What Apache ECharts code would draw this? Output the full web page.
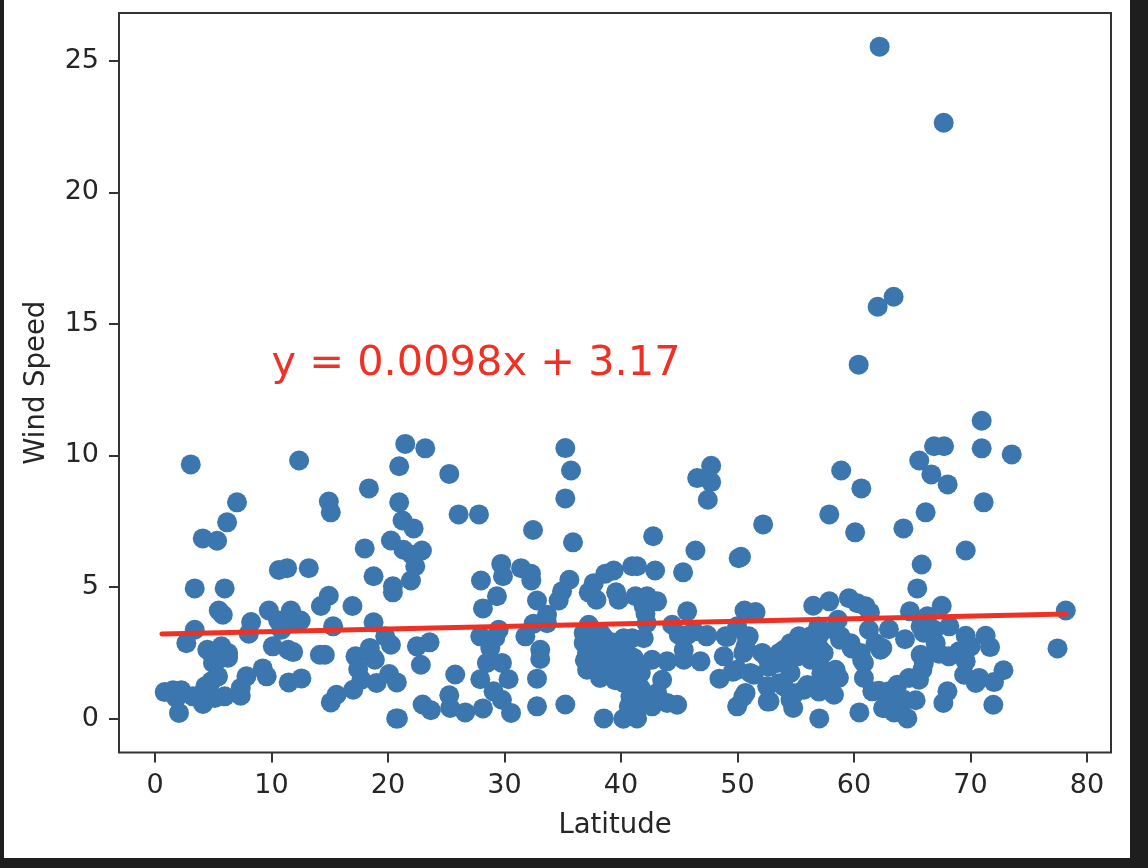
<!DOCTYPE html>
<html><head><meta charset="utf-8">
<script src="https://cdn.jsdelivr.net/npm/echarts@6/dist/echarts.min.js"></script>
<style>
html,body{margin:0;padding:0;background:#1e1e1e;width:1148px;height:868px;overflow:hidden}
#c{position:absolute;left:4px;top:0;width:1126px;height:858px;background:#fff}
</style></head><body><div id="c"></div>
<script>
const xTicks=[0,10,20,30,40,50,60,70,80];
const yTicks=[0,5,10,15,20,25];
const xName='Latitude';
const yName='Wind Speed';
const equation='y = 0.0098x + 3.17';
const equationAt=[10,13];
const fitLine=[[0.6,3.22],[78.2,3.98]];
const band0to20=[[3.07,9.66],[12.37,9.81],[18.36,8.75],[7.04,8.22],[14.92,8.25],[15.09,7.84],[6.19,7.46],[4.1,6.85],[5.33,6.76],[18,6.47],[18.76,5.41],[10.63,5.65],[11.34,5.72],[13.2,5.72],[3.41,4.95],[5.98,4.95],[14.92,4.67],[14.24,4.28],[16.95,4.28],[5.47,4.11],[5.82,3.95],[9.77,4.11],[11.66,4.11],[8.25,3.67],[10.57,3.73],[11.28,3.57],[12.51,3.73],[11.86,3.89],[10.85,3.38],[15.29,3.51],[18.76,3.66],[3.41,3.38],[8.05,3.23],[2.69,2.87],[10.11,2.75],[11.43,2.62],[11.86,2.53],[14.15,2.43],[14.58,2.43],[4.49,2.62],[5.7,2.75],[6.27,2.5],[5.41,2.24],[4.98,2.12],[6.27,2.32],[4.81,2.5],[17.21,2.37],[18.44,2.69],[18.87,2.24],[5.41,1.61],[4.84,1.42],[7.85,1.61],[9.25,1.91],[9.59,1.61],[11.48,1.38],[12.57,1.53],[17.44,1.89],[15.58,0.91],[15.09,0.62],[17.01,1.1],[17.72,1.48],[19.02,1.36],[0.83,1.01],[1.55,1.08],[2.26,1.08],[1.83,0.79],[2.06,0.22],[3.26,0.85],[4.12,0.56],[4.41,0.98],[5.13,0.79],[5.98,0.85],[7.36,0.87],[7.36,1.17],[4.32,1.23]];
const band20to40=[[21.48,10.44],[23.2,10.27],[20.96,9.59],[25.26,9.3],[20.96,8.22],[21.25,7.53],[22.2,7.23],[26.06,7.76],[27.81,7.76],[32.45,7.17],[35.88,6.7],[20.25,6.77],[21.33,6.42],[22.91,6.39],[22.05,6.23],[22.34,5.79],[21.97,5.25],[20.42,5.03],[20.42,4.8],[29.72,5.88],[29.87,5.41],[27.98,5.25],[29.35,4.65],[28.15,4.19],[31.42,5.72],[32.27,5.51],[32.3,5.25],[32.79,4.49],[35.57,5.28],[34.94,4.84],[34.65,4.49],[35.22,10.28],[35.71,9.43],[35.22,8.37],[33.65,3.95],[33.65,3.63],[32.5,3.61],[31.79,3.13],[37.23,3.57],[39.37,5.63],[38.66,5.51],[37.66,5.15],[37.23,4.8],[37.89,4.52],[39.58,4.8],[39.8,4.52],[29.5,3.38],[27.92,3.13],[29.21,3.08],[28.78,2.69],[28.49,2.12],[29.78,2.12],[27.92,1.5],[30.35,1.5],[29.06,1.04],[29.78,0.72],[30.56,0.22],[28.15,0.39],[32.79,1.52],[33.07,2.62],[33.07,2.27],[32.79,0.47],[35.22,0.54],[23.57,2.9],[22.48,2.75],[22.82,2.05],[25.77,1.68],[20.25,2.81],[19.76,3.13],[18.76,2.31],[20.1,1.7],[20.76,1.38],[20.7,0.01],[20.85,0.01],[22.97,0.54],[23.68,0.32],[25.26,0.89],[25.34,0.41],[26.63,0.24],[36.8,3.26],[38.23,3.26],[36.8,2.88],[38.52,3.0],[37.09,2.5],[37.09,2.24],[37.09,1.86],[39.09,2.37],[39.52,1.74],[38.52,0.01],[39.66,2.62],[37.9,2.7],[38.3,2.0],[36.9,2.22],[37.9,2.36],[38.9,1.85],[39.5,1.46],[38.5,3.1],[39.2,2.9],[38.2,1.55]];
const band40to60=[[47.74,9.61],[46.54,9.14],[47.74,8.99],[47.45,8.32],[58.9,9.43],[52.2,7.38],[57.88,7.76],[42.76,6.93],[46.39,6.39],[50.1,6.1],[50.3,6.15],[40.95,5.79],[41.38,5.79],[42.93,5.63],[45.33,5.56],[41.24,4.65],[42.24,4.65],[43.1,4.46],[41.95,4.27],[45.68,4.08],[50.6,4.11],[51.55,4.05],[56.5,4.29],[57.88,4.46],[59.56,4.58],[58.62,3.76],[44.39,3.57],[44.96,3.19],[46.25,3.32],[47.34,3.13],[48.97,3.13],[49.97,3.51],[50.97,3.13],[50.69,2.75],[41.95,3.06],[40.95,3.06],[40.23,3.06],[45.39,2.62],[48.82,2.37],[46.82,2.18],[45.39,2.24],[43.96,2.18],[42.67,2.24],[41.09,2.31],[40.81,2.37],[48.45,1.52],[52.12,2.5],[49.97,1.86],[51.4,1.67],[43.53,1.48],[43.1,0.98],[44.82,0.53],[43.96,0.6],[42.67,0.47],[41.38,0.01],[40.2,0],[41.07,0.47],[40.67,1.36],[40.23,1.36],[41.67,1.17],[40.81,1.86],[40.23,2.12],[41.67,1.86],[40.23,1.48],[41.38,0.85],[40.81,0.85],[40.67,0.47],[50.69,0.98],[49.97,0.47],[52.75,0.66],[53.4,2.12],[52.55,1.23],[53.98,2.62],[54.55,2.87],[55.27,3.13],[54.25,2.12],[55.12,2.37],[56.27,3.13],[56.85,2.87],[57.13,2.62],[55.98,2.62],[54.55,1.74],[53.98,1.23],[54.55,0.72],[54.78,0.41],[55.7,1.1],[56.85,1.16],[57.02,0.01],[58.28,0.91],[57.71,1.36],[58.7,1.55],[58.42,1.86],[57.42,1.86],[56.27,2.24],[58.28,3.38],[58.85,3.13],[59.71,2.87],[57.13,3.25],[56.9,3.4],[42.1,4],[42.2,3.63],[40.5,1.36],[41.1,2.22],[41.7,1.74],[41.1,0.6],[41.8,1.03],[42.5,0.52],[45.7,3.18],[47.4,3.18],[49.1,3.1],[50.8,3.1],[50.5,2.5],[49.6,1.78],[51.1,1.74],[50.5,0.84],[56.95,3.5],[55.35,3.05],[53.6,2.5],[52.45,2.36],[52.7,1.97],[53.6,1.35],[52.6,0.65],[54.9,0.97],[56,1.28],[57,1.03],[57.2,1.73],[57.4,2.5],[58.8,3],[59.8,2.67]];
const band60to80=[[60.63,8.75],[60.1,7.08],[60.28,4.39],[61,4.27],[61.37,4.04],[60.46,0.24],[60.57,2.5],[60.85,2.12],[60.85,1.55],[61.57,1.04],[61.28,3.38],[61.85,2.87],[62.28,2.62],[73.54,10.04],[70.96,10.27],[70.96,11.32],[66.87,10.35],[67.73,10.35],[65.6,9.81],[66.64,9.28],[68.04,8.9],[71.13,8.22],[66.15,7.84],[64.24,7.23],[69.59,6.39],[65.81,5.86],[65.43,4.95],[67.53,4.29],[64.8,4.08],[66.3,3.89],[78.18,4.11],[77.47,2.67],[63,3.4],[62.43,2.69],[64.38,3.02],[68.18,3.51],[65.72,3.51],[66.87,3.38],[65.98,3.27],[67.01,2.87],[69.59,3.15],[71.3,3.15],[71.68,2.72],[70.02,2.75],[69.02,2.56],[68.15,2.37],[67.3,2.47],[65.72,2.43],[66,2.12],[69.59,2.18],[69.45,1.67],[70.45,1.36],[70.74,1.55],[72.02,1.39],[72.83,1.84],[71.96,0.53],[68.02,1.04],[67.67,0.6],[65.87,1.86],[65.58,1.48],[64.72,1.55],[63.72,1.29],[62.14,1.06],[63,1.04],[65.29,0.7],[64.29,0.72],[62.71,0.41],[63.43,0.24],[64.58,0.01],[64,0.47],[60.7,2.23],[62.5,0.4]];
const outliers=[[62.2,25.53],[67.7,22.64],[63.4,16.03],[62.03,15.65],[60.4,13.45]];

const points=[].concat(band0to20,band20to40,band40to60,band60to80,outliers);
const font='DejaVu Sans';
const ink='#262626';
const spine='#333';
const chart=echarts.init(document.getElementById('c'));
function axisStyle(ticks,name,gap,margin,extra){
  return {type:'value',name:name,nameLocation:'middle',nameGap:gap,
    nameTextStyle:{fontFamily:font,fontSize:27.5,color:ink},
    splitLine:{show:false},axisLine:{show:false,onZero:false},
    axisTick:{show:true,length:10,customValues:ticks,lineStyle:{color:spine,width:2}},
    axisLabel:Object.assign({customValues:ticks,fontFamily:font,fontSize:27,color:ink,margin:margin},extra)};
}
chart.setOption({
  animation:false,backgroundColor:'#fff',
  grid:{left:115,top:13,width:992,height:739.5,show:true,borderColor:spine,borderWidth:2,backgroundColor:'transparent'},
  xAxis:Object.assign(axisStyle(xTicks,xName,59,20,{}),{min:-3.09,max:82.06}),
  yAxis:Object.assign(axisStyle(yTicks,yName,68,20,{padding:[9,0,0,0]}),{min:-1.284,max:26.81}),
  series:[
    {type:'scatter',data:points,symbolSize:20,itemStyle:{color:'#3b76af',opacity:1},z:2},
    {type:'line',data:fitLine,symbol:'none',lineStyle:{color:'#ee3124',width:5,cap:'round'},z:3},
    {type:'scatter',data:[equationAt],symbolSize:0,z:4,silent:true,itemStyle:{opacity:1},
     label:{show:true,formatter:equation,position:'right',distance:0,offset:[0,-12],
       fontFamily:font,fontSize:41.5,color:'#ee3124'}}
  ]
});
</script></body></html>
